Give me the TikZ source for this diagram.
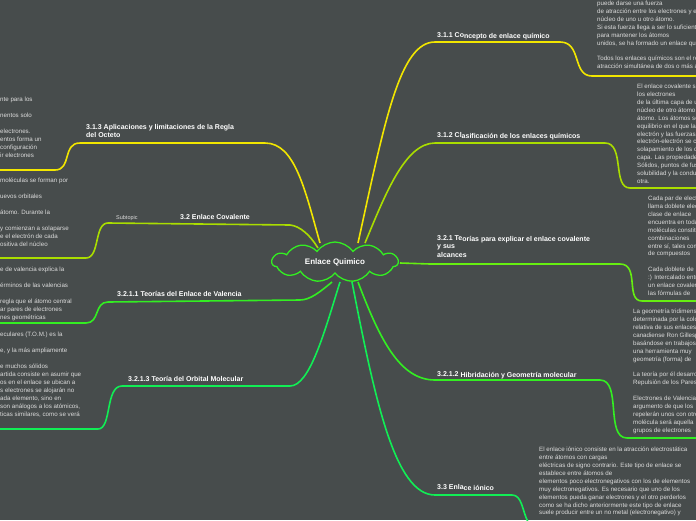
\documentclass[tikz,border=0pt]{standalone}
\usepackage{fontspec}
\setmainfont{Liberation Sans}
\usetikzlibrary{shapes.symbols}
\definecolor{bg}{HTML}{474C4C}
\definecolor{tx}{HTML}{DCDCDC}
\definecolor{cY}{HTML}{F2E600}
\definecolor{cYG}{HTML}{AADD00}
\definecolor{cG1}{HTML}{66EE11}
\definecolor{cG2}{HTML}{33EE22}
\definecolor{cG3}{HTML}{11EE55}
\tikzset{
 br/.style={line width=1.6pt},
 lab/.style={anchor=base west,inner sep=0pt,text=white,font=\fontsize{7}{8.5}\selectfont\bfseries},
 body/.style={anchor=north west,inner sep=0pt,text=tx,align=left,font=\fontsize{6.2}{7.9}\selectfont},
 frag/.style={anchor=base west,inner sep=0pt,text=tx,font=\fontsize{6.2}{7.9}\selectfont},
}
\begin{document}
\begin{tikzpicture}[x=1pt,y=-1pt]
\fill[bg] (0,0) rectangle (696,520);
\useasboundingbox (0,0) rectangle (696,520);
\clip (0,0) rectangle (696,520);
% center
\node[cloud,cloud puffs=11,cloud puff arc=110,aspect=3.2,draw=cG2,line width=1.3pt,fill=bg,minimum width=126pt,minimum height=40pt,text=white,font=\fontsize{8}{9}\selectfont\bfseries] (c) at (335,262) {};
\coordinate (cY1) at (320,243);
\coordinate (cY2) at (358,243);
\coordinate (cYG1) at (365,243);
\coordinate (cYG2) at (318,248);
\coordinate (cR) at (400,263);
\coordinate (cB1) at (352,282);
\coordinate (cB2) at (358,282);
\coordinate (cB3) at (332,282);
\coordinate (cB4) at (340,282);
% branch curves (right)
\coordinate (a1) at (435,42); \coordinate (a2) at (560,42); \coordinate (a3) at (592,76); \coordinate (a4) at (700,76);
\draw[br,cY] (cY2) .. controls (385,120) and (400,42) .. (a1) -- (a2) .. controls (582,42) and (572,76) .. (a3) -- (a4);
\coordinate (b1) at (435,143); \coordinate (b2) at (605,143); \coordinate (b3) at (630,188); \coordinate (b4) at (700,188);
\draw[br,cYG] (cYG1) .. controls (385,195) and (405,143) .. (b1) -- (b2) .. controls (625,143) and (612,188) .. (b3) -- (b4);
\coordinate (d1) at (430,264); \coordinate (d2) at (620,264); \coordinate (d3) at (642,301); \coordinate (d4) at (700,301);
\draw[br,cG1] (cR) -- (d1) -- (d2) .. controls (640,264) and (625,301) .. (d3) -- (d4);
\coordinate (e1) at (435,380); \coordinate (e2) at (600,380); \coordinate (e3) at (627,438); \coordinate (e4) at (700,438);
\draw[br,cG2] (cB2) .. controls (380,340) and (400,380) .. (e1) -- (e2) .. controls (622,380) and (605,438) .. (e3) -- (e4);
\coordinate (f1) at (435,495); \coordinate (f2) at (512,495); \coordinate (f3) at (528,522);
\draw[br,cG3] (cB1) .. controls (375,400) and (395,495) .. (f1) -- (f2) .. controls (522,495) and (522,510) .. (f3);
% left
\coordinate (g1) at (265,143); \coordinate (g2) at (80,143); \coordinate (g3) at (55,170); \coordinate (g4) at (-5,170);
\draw[br,cY] (cY1) .. controls (305,190) and (295,143) .. (g1) -- (g2) .. controls (62,143) and (72,170) .. (g3) -- (g4);
\coordinate (h1) at (290,225); \coordinate (h2) at (108,223); \coordinate (h3) at (86,258); \coordinate (h4) at (-5,258);
\draw[br,cYG] (cYG2) .. controls (310,235) and (300,226) .. (h1) -- (h2) .. controls (94,223) and (100,258) .. (h3) -- (h4);
\coordinate (i1) at (300,300); \coordinate (i2) at (108,302); \coordinate (i3) at (86,323); \coordinate (i4) at (-5,323);
\draw[br,cG2] (cB3) .. controls (320,292) and (310,300) .. (i1) -- (i2) .. controls (94,302) and (100,323) .. (i3) -- (i4);
\coordinate (j1) at (290,386); \coordinate (j2) at (122,386); \coordinate (j3) at (98,429); \coordinate (j4) at (-5,429);
\draw[br,cG3] (cB4) .. controls (325,330) and (310,386) .. (j1) -- (j2) .. controls (105,386) and (112,429) .. (j3) -- (j4);
\node[text=white,font=\fontsize{8}{9}\selectfont\bfseries] at (c.center) {Enlace Quimico};
% labels
\node[lab] (l1) at (437,37) {3.1.1 Co\raisebox{-1pt}{ncepto de enlace químico}};
\node[lab] (l2) at (437,137) {3.1.2 Cl\raisebox{-1pt}{asificación de los enlaces químicos}};
\node[lab,anchor=north west,align=left] (l3) at (437,235) {3.2.1 Te\raisebox{-1pt}{orías para explicar el enlace covalente}\\y sus\\alcances};
\node[lab] (l4) at (437,376) {3.2.1.2 \raisebox{-1pt}{Hibridación y Geometría molecular}};
\node[lab] (l5) at (437,489) {3.3 Enla\raisebox{-1pt}{ce iónico}};
\node[lab,anchor=north west,align=left] (l6) at (86,124) {3.1.3 Aplicaciones y limitaciones de la Regla\\del Octeto};
\node[lab] (l7) at (180,219) {3.2 Enlace Covalente};
\node[anchor=base west,inner sep=0pt,text=tx,font=\fontsize{5.5}{6}\selectfont] (l7b) at (116,219) {Subtopic};
\node[lab] (l8) at (117,296) {3.2.1.1 Teorías del Enlace de Valencia};
\node[lab] (l9) at (128,381) {3.2.1.3 Teoría del Orbital Molecular};
% right bodies
\node[body] (t1) at (597,-7) {Al producirse un acercamiento entre dos átomos\\puede darse una fuerza\\de atracción entre los electrones y el\\núcleo de uno u otro átomo.\\Si esta fuerza llega a ser lo suficientemente grande\\para mantener los átomos\\unidos, se ha formado un enlace químico.\\[7.9pt]Todos los enlaces químicos son el resultado de la\\atracción simultánea de dos o más átomos};
\node[body] (t2) at (637,84) {El enlace covalente se forma cuando\\los electrones\\de la última capa de un átomo\\núcleo de otro átomo\\átomo. Los átomos se mantienen\\equilibrio en el que las fuerzas\\electrón y las fuerzas de\\electrón-electrón se compensan\\solapamiento de los orbitales\\capa. Las propiedades\\Sólidos, puntos de fusión\\solubilidad y la conductividad\\otra.};
\node[body] (t3) at (648,196) {Cada par de electrones\\llama doblete electrónico\\clase de enlace\\encuentra en todas las\\moléculas constituidas\\combinaciones\\entre sí, tales como\\de compuestos\\[7.9pt]Cada doblete de\\:) Intercalado entre\\un enlace covalente\\las fórmulas de};
\node[body] (t4) at (633,309) {La geometría tridimensional\\determinada por la colocación\\relativa de sus enlaces\\canadiense Ron Gillespie\\basándose en trabajos\\una herramienta muy\\geometría (forma) de\\[7.9pt]La teoría por él desarrollada\\Repulsión de los Pares\\[7.9pt]Electrones de Valencia\\argumento de que los\\repelerán unos con otros\\molécula será aquella\\grupos de electrones};
\node[body] (t5) at (539,447) {El enlace iónico consiste en la atracción electrostática\\entre átomos con cargas\\eléctricas de signo contrario. Este tipo de enlace se\\establece entre átomos de\\elementos poco electronegativos con los de elementos\\muy electronegativos. Es necesario que uno de los\\elementos pueda ganar electrones y el otro perderlos\\como se ha dicho anteriormente este tipo de enlace\\suele producir entre un no metal (electronegativo) y};
% left fragments
\foreach \yy/\tt in {101/nte para los,117/nentos solo,133/electrones.,141/entos forma un,149/configuración,157/ir electrones,182/moléculas se forman por,198/uevos orbitales,214/átomo. Durante la,230/y comienzan a solaparse,,238/e el electrón de cada,246/ositiva del núcleo,271/e de valencia explica la,287/érminos de las valencias,303/regla que el átomo central,311/ar pares de electrones,,319/nes geométricas,336/eculares (T.O.M.) es la,352/{e, y la más ampliamente},368/e muchos sólidos,376/artida consiste en asumir que,384/os en el enlace se ubican a,392/s electrones se alojarán no,400/ada elemento{,} sino en,408/{son análogos a los atómicos,},416/{ticas similares, como se verá}}
  \node[frag] at (0,\yy) {\tt};
\end{tikzpicture}
\end{document}
